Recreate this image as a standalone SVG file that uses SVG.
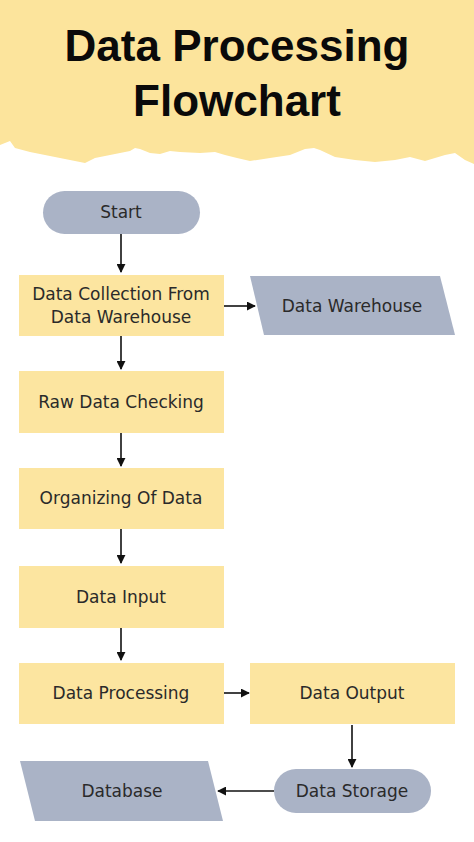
<svg xmlns="http://www.w3.org/2000/svg" width="474" height="842" viewBox="0 0 474 842">
<style>
.box{fill:#FCE5A0}
.grey{fill:#AAB3C6}
.lbl{font-family:"DejaVu Sans",sans-serif;font-size:17px;fill:#2a2a2a;text-anchor:middle;dominant-baseline:central}
.title{font-family:"Liberation Sans",Arial,sans-serif;font-weight:bold;font-size:44px;fill:#0a0a0a;text-anchor:middle}
.con{stroke:#111;stroke-width:1.6;fill:none;marker-end:url(#ah)}
</style>
<defs>
<marker id="ah" viewBox="0 0 10 10" refX="9" refY="5" markerWidth="9" markerHeight="9" markerUnits="userSpaceOnUse" orient="auto">
<path d="M0,0 L10,5 L0,10 z" fill="#111"/>
</marker>
</defs>
<rect width="474" height="842" fill="#ffffff"/>
<g id="header">
<path fill="#FCE49C" d="M0,0 H474 V164 L465,160 L455,153 L445,155 L425,161 L410,157 L395,160 L375,162 L355,160 L335,157 L320,150 L314,148 L305,149 L290,155 L270,158 L250,161 L237,158 L225,155 L215,152 L200,153 L180,152 L170,151 L160,154 L150,153 L140,149 L135,148 L130,151 L110,155 L95,158 L85,163 L70,160 L50,156 L30,152 L15,148 L10,141 L0,145 Z"/>
<text class="title" x="237" y="61">Data Processing</text>
<text class="title" x="237" y="116">Flowchart</text>
</g>
<g id="connectors">
<line class="con" x1="121" y1="234" x2="121" y2="272"/>
<line class="con" x1="224" y1="306" x2="255" y2="306"/>
<line class="con" x1="121" y1="336" x2="121" y2="369"/>
<line class="con" x1="121" y1="433" x2="121" y2="466"/>
<line class="con" x1="121" y1="529" x2="121" y2="563"/>
<line class="con" x1="121" y1="628" x2="121" y2="660"/>
<line class="con" x1="224" y1="693" x2="249" y2="693"/>
<line class="con" x1="352" y1="725" x2="352" y2="767"/>
<line class="con" x1="274" y1="791" x2="218" y2="791"/>
</g>
<g id="start">
<rect class="grey" x="43" y="191" width="157" height="43" rx="21.5"/>
<text class="lbl" x="121" y="212">Start</text>
</g>
<g id="collection">
<rect class="box" x="19" y="275" width="205" height="61"/>
<text class="lbl" x="121" y="294">Data Collection From</text>
<text class="lbl" x="121" y="317">Data Warehouse</text>
</g>
<g id="warehouse">
<polygon class="grey" points="250,276 440,276 455,335 264,335"/>
<text class="lbl" x="352" y="306">Data Warehouse</text>
</g>
<g id="raw">
<rect class="box" x="19" y="371" width="205" height="62"/>
<text class="lbl" x="121" y="402">Raw Data Checking</text>
</g>
<g id="organizing">
<rect class="box" x="19" y="468" width="205" height="61"/>
<text class="lbl" x="121" y="498">Organizing Of Data</text>
</g>
<g id="input">
<rect class="box" x="19" y="566" width="205" height="62"/>
<text class="lbl" x="121" y="597">Data Input</text>
</g>
<g id="processing">
<rect class="box" x="19" y="663" width="205" height="61"/>
<text class="lbl" x="121" y="693">Data Processing</text>
</g>
<g id="output">
<rect class="box" x="250" y="663" width="205" height="61"/>
<text class="lbl" x="352" y="693">Data Output</text>
</g>
<g id="storage">
<rect class="grey" x="274" y="769" width="157" height="44" rx="22"/>
<text class="lbl" x="352" y="791">Data Storage</text>
</g>
<g id="database">
<polygon class="grey" points="20,761 208,761 223,821 35,821"/>
<text class="lbl" x="122" y="791">Database</text>
</g>
</svg>
